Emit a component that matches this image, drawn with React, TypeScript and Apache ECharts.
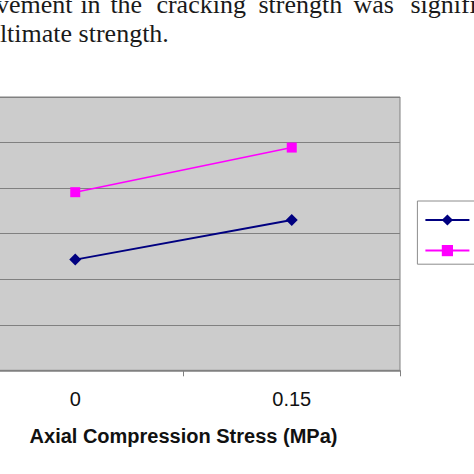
import React, { useEffect, useRef } from "react";
import * as echarts from "echarts";

const categories: string[] = ["0", "0.15"];
const crackingValues: number[] = [2.43, 3.3];
const ultimateValues: number[] = [3.91, 4.89];
const xAxisTitle = "Axial Compression Stress (MPa)";
const line1Words: string[] = ["vement", "in", "the", "cracking", "strength", "was", "signifi"];
const line2Text = "ltimate strength.";

const SHIFT = 33.4;

export default function App() {
  const ref = useRef<HTMLDivElement>(null);
  useEffect(() => {
    if (!ref.current) return;
    const chart = echarts.init(ref.current, undefined, { renderer: "svg" });
    const wordX = [-4.5, 80, 110, 156, 258, 353, 410];
    const serif = "'Liberation Serif', 'Times New Roman', serif";
    const graphic: any[] = line1Words.map((w, i) => ({
      type: "text",
      x: wordX[i] + SHIFT,
      y: 4.5,
      style: { text: w, font: `26px ${serif}`, fill: "#1a1a1a", verticalAlign: "middle", align: "left" },
    }));
    graphic.push({
      type: "text",
      x: -0.5 + SHIFT,
      y: 33.5,
      style: { text: line2Text, font: `26px ${serif}`, fill: "#1a1a1a", verticalAlign: "middle", align: "left" },
    });
    chart.setOption({
      animation: false,
      backgroundColor: "#ffffff",
      graphic,
      grid: {
        left: 0,
        right: 74,
        top: 97,
        bottom: 103.7,
        show: true,
        backgroundColor: "#cccccc",
        borderColor: "#808080",
        borderWidth: 1,
      },
      legend: {
        orient: "vertical",
        left: 417 + SHIFT,
        top: 201,
        padding: [12, 20, 8, 7],
        itemWidth: 44,
        itemHeight: 14,
        itemGap: 18,
        backgroundColor: "#ffffff",
        borderColor: "#8c8c8c",
        borderWidth: 1,
        formatter: () => "",
        selectedMode: false,
      },
      xAxis: {
        type: "category",
        data: categories,
        boundaryGap: true,
        axisLine: { show: true, lineStyle: { color: "#808080", width: 1.5 } },
        axisTick: { show: true, length: 6, lineStyle: { color: "#808080" } },
        axisLabel: {
          margin: 19,
          fontSize: 20,
          color: "#111111",
          fontFamily: "'Liberation Sans', Arial, sans-serif",
        },
        name: xAxisTitle,
        nameLocation: "middle",
        nameGap: 56,
        nameTextStyle: {
          fontSize: 20,
          fontWeight: "bold",
          color: "#111111",
          fontFamily: "'Liberation Sans', Arial, sans-serif",
        },
      },
      yAxis: {
        type: "value",
        min: 0,
        max: 6,
        interval: 1,
        axisLabel: { show: false },
        axisLine: { show: false },
        axisTick: { show: false },
        splitLine: { show: true, lineStyle: { color: "#808080", width: 1 } },
      },
      series: [
        {
          name: "Cracking",
          type: "line",
          data: crackingValues,
          symbol: "diamond",
          symbolSize: 12,
          itemStyle: { color: "#000080" },
          lineStyle: { color: "#000080", width: 2 },
        },
        {
          name: "Ultimate",
          type: "line",
          data: ultimateValues,
          symbol: "rect",
          symbolSize: 10,
          itemStyle: { color: "#ff00ff" },
          lineStyle: { color: "#ff00ff", width: 1.5 },
        },
      ],
    });
    return () => chart.dispose();
  }, []);
  return (
    <div style={{ position: "fixed", left: 0, top: 0, width: 474, height: 474, overflow: "hidden", background: "#fff" }}>
      <div
        ref={ref}
        style={{ position: "absolute", left: -SHIFT, top: 0, width: 474 + SHIFT, height: 474 }}
      />
    </div>
  );
}
